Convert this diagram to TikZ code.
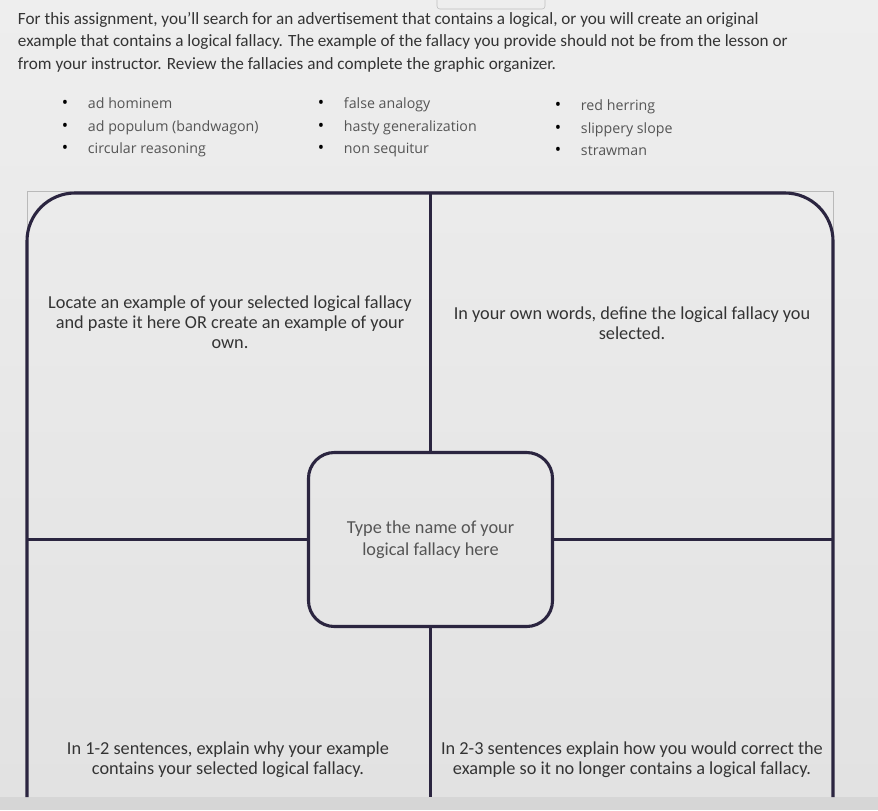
\documentclass[tikz,border=0pt]{standalone}
\usepackage{fontspec}
\setmainfont{Carlito}
\newfontfamily\listfont{Open Sans}
\usetikzlibrary{positioning}
\definecolor{framenavy}{RGB}{43,37,64}
\definecolor{papertop}{RGB}{238,238,238}
\definecolor{paperbottom}{RGB}{226,226,226}
\definecolor{inkgray}{RGB}{52,52,52}
\definecolor{softgray}{RGB}{85,85,85}
\newcommand{\bul}{\makebox[0.65cm][l]{\textcolor{black}{\large\textbullet}}}

\begin{document}
\begin{tikzpicture}[x=0.025cm, y=-0.025cm,
        frame/.style={draw=framenavy, line width=2.2pt},
        fallacybox/.style={rectangle, draw=framenavy, line width=2.2pt, rounded corners=0.65cm, minimum width=6.1cm, minimum height=4.35cm, align=center, text=softgray, font=\fontsize{13}{15.6}\selectfont},
        prompt/.style={align=center, text=inkgray, font=\fontsize{13}{14.4}\selectfont},
        intro/.style={anchor=north west, align=left, text=inkgray, font=\fontsize{12.2}{16}\selectfont},
        itemcol/.style={anchor=north west, align=left, text=softgray, font=\listfont\fontsize{10.1}{16}\selectfont}
    ]
        % Page
        \useasboundingbox (0,0) rectangle (878,810);
        \shade[top color=papertop, bottom color=paperbottom] (0,0) rectangle (878,797);
        \fill[gray!32] (0,797) rectangle (878,810);
        \draw[gray!50, rounded corners=2pt] (437,-6) rectangle (545,9);

        % Instructions
        \node[intro] (assignment) at (13,7) {For this assignment, you’ll search for an advertisement that contains a logical, or you will create an original\\example that contains a logical fallacy. The example of the fallacy you provide should not be from the lesson or\\from your instructor. Review the fallacies and complete the graphic organizer.};

        % Fallacy list
        \node[itemcol] (listone) at (57,93) {\bul ad hominem\\\bul ad populum (bandwagon)\\\bul circular reasoning};
        \node[itemcol] (listtwo) at (313,93) {\bul false analogy\\\bul hasty generalization\\\bul non sequitur};
        \node[itemcol] (listthree) at (550,95) {\bul red herring\\\bul slippery slope\\\bul strawman};

        % Frame points
        \coordinate (frametop) at (432,193);
        \coordinate (framebottom) at (432,797);
        \coordinate (frameleft) at (27,538);
        \coordinate (frameright) at (833,538);

        % Organizer frame
        \draw[gray!55, line width=0.5pt] (frameleft |- framebottom) |- ([yshift=0.05cm]frametop -| frameright) -- (frameright |- framebottom);
        \draw[frame, rounded corners=1.2cm] (frameleft |- framebottom) |- (frametop -| frameright) -- (frameright |- framebottom);

        % Centre box
        \node[fallacybox] (fallacy) at (430.5,539.5) {Type the name of your\\logical fallacy here};

        % Dividers
        \draw[frame] (fallacy.north) -- (fallacy.north |- frametop);
        \draw[frame] (fallacy.south) -- (fallacy.south |- framebottom);
        \draw[frame] (fallacy.west) -- (fallacy.west -| frameleft);
        \draw[frame] (fallacy.east) -- (fallacy.east -| frameright);

        % Prompts
        \node[prompt] (locate) at (230,322) {Locate an example of your selected logical fallacy\\and paste it here OR create an example of your\\own.};
        \node[prompt] (define) at (632,323) {In your own words, define the logical fallacy you\\selected.};
        \node[prompt] (explain) at (228,760) {In 1-2 sentences, explain why your example\\contains your selected logical fallacy.};
        \node[prompt] (correct) at (632,760) {In 2-3 sentences explain how you would correct the\\example so it no longer contains a logical fallacy.};

    \end{tikzpicture}
\end{document}
